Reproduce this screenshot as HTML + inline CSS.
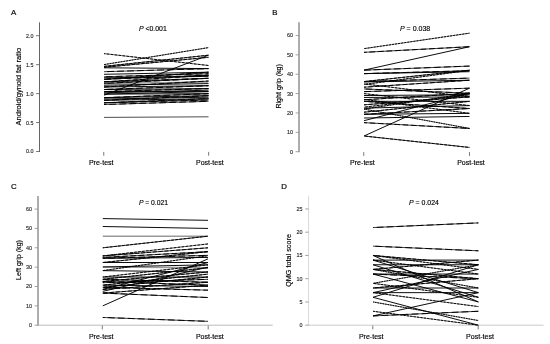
<!DOCTYPE html>
<html><head><meta charset="utf-8"><title>Figure</title>
<style>
html,body{margin:0;padding:0;background:#fff;}
body{width:550px;height:344px;overflow:hidden;font-family:'Liberation Sans', sans-serif;}
svg{display:block;}
svg text{font-family:"Liberation Sans",sans-serif;}
</style></head><body>
<svg width="550" height="344" viewBox="0 0 550 344">
<rect width="550" height="344" fill="#fff"/>
<line x1="39.5" y1="22.3" x2="39.5" y2="152" stroke="#666" stroke-width="1"/>
<line x1="36.1" y1="151.5" x2="39.5" y2="151.5" stroke="#666" stroke-width="0.9"/>
<text x="33.5" y="153.45" font-size="5.4" fill="#222" text-anchor="end" stroke="#222" stroke-width="0.12">0.0</text>
<line x1="36.1" y1="122.55" x2="39.5" y2="122.55" stroke="#666" stroke-width="0.9"/>
<text x="33.5" y="124.5" font-size="5.4" fill="#222" text-anchor="end" stroke="#222" stroke-width="0.12">0.5</text>
<line x1="36.1" y1="93.6" x2="39.5" y2="93.6" stroke="#666" stroke-width="0.9"/>
<text x="33.5" y="95.55" font-size="5.4" fill="#222" text-anchor="end" stroke="#222" stroke-width="0.12">1.0</text>
<line x1="36.1" y1="64.65" x2="39.5" y2="64.65" stroke="#666" stroke-width="0.9"/>
<text x="33.5" y="66.6" font-size="5.4" fill="#222" text-anchor="end" stroke="#222" stroke-width="0.12">1.5</text>
<line x1="36.1" y1="35.7" x2="39.5" y2="35.7" stroke="#666" stroke-width="0.9"/>
<text x="33.5" y="37.65" font-size="5.4" fill="#222" text-anchor="end" stroke="#222" stroke-width="0.12">2.0</text>
<line x1="103.75" y1="151.9" x2="103.75" y2="155.7" stroke="#555" stroke-width="0.8"/>
<line x1="208.65" y1="151.9" x2="208.65" y2="155.7" stroke="#555" stroke-width="0.8"/>
<text x="10.9" y="15" font-size="7.9" fill="#111" stroke="#111" stroke-width="0.22">A</text>
<text x="138.9" y="31.3" font-size="7" fill="#000" textLength="27.9" lengthAdjust="spacingAndGlyphs" stroke="#000" stroke-width="0.15"><tspan font-style="italic">P</tspan> &lt;0.001</text>
<text x="88.9" y="165.2" font-size="7" fill="#000" textLength="24.7" lengthAdjust="spacingAndGlyphs" stroke="#000" stroke-width="0.15">Pre-test</text>
<text x="196" y="165.2" font-size="7" fill="#000" textLength="27.6" lengthAdjust="spacingAndGlyphs" stroke="#000" stroke-width="0.15">Post-test</text>
<text x="20.9" y="125.4" font-size="7" fill="#000" textLength="77.6" lengthAdjust="spacingAndGlyphs" stroke="#000" stroke-width="0.15" transform="rotate(-90 20.9 125.4)">Android/gynoid fat ratio</text>
<line x1="104" y1="53.6" x2="208.5" y2="65.5" stroke="#000" stroke-opacity="0.5" stroke-width="0.95"/>
<line x1="104" y1="53.6" x2="208.5" y2="65.5" stroke="#000" stroke-width="0.95" stroke-dasharray="2.71 1.28" stroke-dashoffset="1.37"/>
<line x1="104" y1="64.6" x2="208.5" y2="47.6" stroke="#000" stroke-opacity="0.5" stroke-width="0.95"/>
<line x1="104" y1="64.6" x2="208.5" y2="47.6" stroke="#000" stroke-width="0.95" stroke-dasharray="1.9 0.89" stroke-dashoffset="2.74"/>
<line x1="104" y1="66.4" x2="208.5" y2="55.2" stroke="#000" stroke-opacity="0.8" stroke-width="0.95"/>
<line x1="104" y1="66.4" x2="208.5" y2="55.2" stroke="#000" stroke-width="0.95" stroke-dasharray="2.88 1.36" stroke-dashoffset="4.11"/>
<line x1="104" y1="67.3" x2="208.5" y2="57.3" stroke="#000" stroke-opacity="0.8" stroke-width="0.95"/>
<line x1="104" y1="67.3" x2="208.5" y2="57.3" stroke="#000" stroke-width="0.95" stroke-dasharray="3.23 1.52" stroke-dashoffset="0.73"/>
<line x1="104" y1="67.8" x2="208.5" y2="68.6" stroke="#000" stroke-width="0.95"/>
<line x1="104" y1="71.7" x2="208.5" y2="68.6" stroke="#000" stroke-opacity="0.8" stroke-width="0.95"/>
<line x1="104" y1="71.7" x2="208.5" y2="68.6" stroke="#000" stroke-width="0.95" stroke-dasharray="6.8 3.2" stroke-dashoffset="6.85"/>
<line x1="104" y1="74.3" x2="208.5" y2="72.2" stroke="#000" stroke-width="0.95"/>
<line x1="104" y1="76.8" x2="208.5" y2="73.7" stroke="#000" stroke-opacity="0.8" stroke-width="0.95"/>
<line x1="104" y1="76.8" x2="208.5" y2="73.7" stroke="#000" stroke-width="0.95" stroke-dasharray="6.8 3.2" stroke-dashoffset="8.22"/>
<line x1="104" y1="79.3" x2="208.5" y2="75.2" stroke="#000" stroke-opacity="0.8" stroke-width="0.95"/>
<line x1="104" y1="79.3" x2="208.5" y2="75.2" stroke="#000" stroke-width="0.95" stroke-dasharray="6.8 3.2" stroke-dashoffset="9.59"/>
<line x1="104" y1="79.3" x2="208.5" y2="72.2" stroke="#000" stroke-opacity="0.8" stroke-width="0.95"/>
<line x1="104" y1="79.3" x2="208.5" y2="72.2" stroke="#000" stroke-width="0.95" stroke-dasharray="4.55 2.14" stroke-dashoffset="4.27"/>
<line x1="104" y1="81.9" x2="208.5" y2="78.3" stroke="#000" stroke-opacity="0.8" stroke-width="0.95"/>
<line x1="104" y1="81.9" x2="208.5" y2="78.3" stroke="#000" stroke-width="0.95" stroke-dasharray="6.8 3.2" stroke-dashoffset="2.33"/>
<line x1="104" y1="81.9" x2="208.5" y2="75.2" stroke="#000" stroke-opacity="0.8" stroke-width="0.95"/>
<line x1="104" y1="81.9" x2="208.5" y2="75.2" stroke="#000" stroke-width="0.95" stroke-dasharray="4.82 2.27" stroke-dashoffset="6.61"/>
<line x1="104" y1="83.4" x2="208.5" y2="82" stroke="#999" stroke-width="1.5"/>
<line x1="104" y1="83.4" x2="208.5" y2="78.3" stroke="#000" stroke-opacity="0.8" stroke-width="0.95"/>
<line x1="104" y1="83.4" x2="208.5" y2="78.3" stroke="#000" stroke-width="0.95" stroke-dasharray="6.33 2.98" stroke-dashoffset="5.76"/>
<line x1="104" y1="87" x2="208.5" y2="85.7" stroke="#000" stroke-width="0.95"/>
<line x1="104" y1="87" x2="208.5" y2="81" stroke="#000" stroke-opacity="0.8" stroke-width="0.95"/>
<line x1="104" y1="87" x2="208.5" y2="81" stroke="#000" stroke-width="0.95" stroke-dasharray="5.38 2.53" stroke-dashoffset="0.61"/>
<line x1="104" y1="89.5" x2="208.5" y2="88.6" stroke="#000" stroke-width="0.95"/>
<line x1="104" y1="89.5" x2="208.5" y2="85.7" stroke="#000" stroke-opacity="0.8" stroke-width="0.95"/>
<line x1="104" y1="89.5" x2="208.5" y2="85.7" stroke="#000" stroke-width="0.95" stroke-dasharray="6.8 3.2" stroke-dashoffset="7.81"/>
<line x1="104" y1="91.6" x2="208.5" y2="91.6" stroke="#000" stroke-width="0.95"/>
<line x1="104" y1="91.6" x2="208.5" y2="88.6" stroke="#000" stroke-opacity="0.8" stroke-width="0.95"/>
<line x1="104" y1="91.6" x2="208.5" y2="88.6" stroke="#000" stroke-width="0.95" stroke-dasharray="6.8 3.2" stroke-dashoffset="9.18"/>
<line x1="104" y1="94.1" x2="208.5" y2="93.7" stroke="#000" stroke-width="0.95"/>
<line x1="104" y1="95.2" x2="208.5" y2="55.2" stroke="#000" stroke-width="0.95"/>
<line x1="104" y1="94.1" x2="208.5" y2="91.6" stroke="#000" stroke-width="0.95"/>
<line x1="104" y1="97.7" x2="208.5" y2="95.7" stroke="#000" stroke-width="0.95"/>
<line x1="104" y1="97.7" x2="208.5" y2="93.7" stroke="#000" stroke-opacity="0.8" stroke-width="0.95"/>
<line x1="104" y1="97.7" x2="208.5" y2="93.7" stroke="#000" stroke-width="0.95" stroke-dasharray="6.8 3.2" stroke-dashoffset="0.55"/>
<line x1="104" y1="100.3" x2="208.5" y2="98.7" stroke="#000" stroke-width="0.95"/>
<line x1="104" y1="100.3" x2="208.5" y2="95.7" stroke="#000" stroke-opacity="0.8" stroke-width="0.95"/>
<line x1="104" y1="100.3" x2="208.5" y2="95.7" stroke="#000" stroke-width="0.95" stroke-dasharray="6.8 3.2" stroke-dashoffset="1.92"/>
<line x1="104" y1="102.8" x2="208.5" y2="100" stroke="#000" stroke-opacity="0.8" stroke-width="0.95"/>
<line x1="104" y1="102.8" x2="208.5" y2="100" stroke="#000" stroke-width="0.95" stroke-dasharray="6.8 3.2" stroke-dashoffset="3.29"/>
<line x1="104" y1="104.5" x2="208.5" y2="101.3" stroke="#000" stroke-opacity="0.8" stroke-width="0.95"/>
<line x1="104" y1="104.5" x2="208.5" y2="101.3" stroke="#000" stroke-width="0.95" stroke-dasharray="6.8 3.2" stroke-dashoffset="4.66"/>
<line x1="104" y1="102.8" x2="208.5" y2="98.7" stroke="#000" stroke-opacity="0.8" stroke-width="0.95"/>
<line x1="104" y1="102.8" x2="208.5" y2="98.7" stroke="#000" stroke-width="0.95" stroke-dasharray="6.8 3.2" stroke-dashoffset="6.03"/>
<line x1="104" y1="85.2" x2="208.5" y2="83.6" stroke="#000" stroke-width="0.95"/>
<line x1="104" y1="92.8" x2="208.5" y2="90.2" stroke="#000" stroke-width="0.95"/>
<line x1="104" y1="99" x2="208.5" y2="97.2" stroke="#000" stroke-width="0.95"/>
<line x1="104" y1="77.8" x2="208.5" y2="76.4" stroke="#000" stroke-width="0.95"/>
<line x1="104" y1="117.4" x2="208.5" y2="116.8" stroke="#444" stroke-width="0.95"/>
<line x1="299" y1="22.3" x2="299" y2="152.2" stroke="#999" stroke-width="1.6"/>
<line x1="295.6" y1="151.7" x2="299" y2="151.7" stroke="#999" stroke-width="0.9"/>
<text x="293" y="153.65" font-size="5.4" fill="#222" text-anchor="end" stroke="#222" stroke-width="0.12">0</text>
<line x1="295.6" y1="132.33" x2="299" y2="132.33" stroke="#999" stroke-width="0.9"/>
<text x="293" y="134.28" font-size="5.4" fill="#222" text-anchor="end" stroke="#222" stroke-width="0.12">10</text>
<line x1="295.6" y1="112.96" x2="299" y2="112.96" stroke="#999" stroke-width="0.9"/>
<text x="293" y="114.91" font-size="5.4" fill="#222" text-anchor="end" stroke="#222" stroke-width="0.12">20</text>
<line x1="295.6" y1="93.59" x2="299" y2="93.59" stroke="#999" stroke-width="0.9"/>
<text x="293" y="95.54" font-size="5.4" fill="#222" text-anchor="end" stroke="#222" stroke-width="0.12">30</text>
<line x1="295.6" y1="74.22" x2="299" y2="74.22" stroke="#999" stroke-width="0.9"/>
<text x="293" y="76.17" font-size="5.4" fill="#222" text-anchor="end" stroke="#222" stroke-width="0.12">40</text>
<line x1="295.6" y1="54.85" x2="299" y2="54.85" stroke="#999" stroke-width="0.9"/>
<text x="293" y="56.8" font-size="5.4" fill="#222" text-anchor="end" stroke="#222" stroke-width="0.12">50</text>
<line x1="295.6" y1="35.48" x2="299" y2="35.48" stroke="#999" stroke-width="0.9"/>
<text x="293" y="37.43" font-size="5.4" fill="#222" text-anchor="end" stroke="#222" stroke-width="0.12">60</text>
<line x1="363.75" y1="152.1" x2="363.75" y2="155.9" stroke="#555" stroke-width="0.8"/>
<line x1="469.5" y1="152.1" x2="469.5" y2="155.9" stroke="#555" stroke-width="0.8"/>
<text x="272.3" y="15" font-size="7.9" fill="#111" stroke="#111" stroke-width="0.22">B</text>
<text x="400" y="31.3" font-size="7" fill="#000" textLength="30.2" lengthAdjust="spacingAndGlyphs" stroke="#000" stroke-width="0.15"><tspan font-style="italic">P</tspan> = 0.038</text>
<text x="350" y="165.4" font-size="7" fill="#000" textLength="24.8" lengthAdjust="spacingAndGlyphs" stroke="#000" stroke-width="0.15">Pre-test</text>
<text x="457.2" y="165.4" font-size="7" fill="#000" textLength="27.6" lengthAdjust="spacingAndGlyphs" stroke="#000" stroke-width="0.15">Post-test</text>
<text x="281.4" y="108.6" font-size="7" fill="#000" textLength="44.5" lengthAdjust="spacingAndGlyphs" stroke="#000" stroke-width="0.15" transform="rotate(-90 281.4 108.6)">Right grip (kg)</text>
<line x1="364" y1="48.65" x2="469.5" y2="33.16" stroke="#000" stroke-opacity="0.5" stroke-width="0.95"/>
<line x1="364" y1="48.65" x2="469.5" y2="33.16" stroke="#000" stroke-width="0.95" stroke-dasharray="2.1 0.99" stroke-dashoffset="2.64"/>
<line x1="364" y1="52.33" x2="469.5" y2="46.71" stroke="#000" stroke-opacity="0.8" stroke-width="0.95"/>
<line x1="364" y1="52.33" x2="469.5" y2="46.71" stroke="#000" stroke-width="0.95" stroke-dasharray="5.81 2.73" stroke-dashoffset="3.16"/>
<line x1="364" y1="70.15" x2="469.5" y2="46.71" stroke="#000" stroke-width="0.95"/>
<line x1="364" y1="70.15" x2="469.5" y2="66.08" stroke="#000" stroke-opacity="0.8" stroke-width="0.95"/>
<line x1="364" y1="70.15" x2="469.5" y2="66.08" stroke="#000" stroke-width="0.95" stroke-dasharray="6.8 3.2" stroke-dashoffset="0.14"/>
<line x1="364" y1="73.64" x2="469.5" y2="70.73" stroke="#000" stroke-opacity="0.8" stroke-width="0.95"/>
<line x1="364" y1="73.64" x2="469.5" y2="70.73" stroke="#000" stroke-width="0.95" stroke-dasharray="6.8 3.2" stroke-dashoffset="1.51"/>
<line x1="364" y1="73.64" x2="469.5" y2="71.7" stroke="#000" stroke-width="0.95"/>
<line x1="364" y1="81.58" x2="469.5" y2="70.15" stroke="#000" stroke-opacity="0.8" stroke-width="0.95"/>
<line x1="364" y1="81.58" x2="469.5" y2="70.15" stroke="#000" stroke-width="0.95" stroke-dasharray="2.85 1.34" stroke-dashoffset="3.51"/>
<line x1="364" y1="81.58" x2="469.5" y2="78.09" stroke="#000" stroke-opacity="0.8" stroke-width="0.95"/>
<line x1="364" y1="81.58" x2="469.5" y2="78.09" stroke="#000" stroke-width="0.95" stroke-dasharray="6.8 3.2" stroke-dashoffset="4.25"/>
<line x1="364" y1="81.97" x2="469.5" y2="80.22" stroke="#000" stroke-width="0.95"/>
<line x1="364" y1="84.49" x2="469.5" y2="70.35" stroke="#000" stroke-opacity="0.5" stroke-width="0.95"/>
<line x1="364" y1="84.49" x2="469.5" y2="70.35" stroke="#000" stroke-width="0.95" stroke-dasharray="2.31 1.09" stroke-dashoffset="1.71"/>
<line x1="364" y1="87.2" x2="469.5" y2="80.22" stroke="#000" stroke-opacity="0.8" stroke-width="0.95"/>
<line x1="364" y1="87.2" x2="469.5" y2="80.22" stroke="#000" stroke-width="0.95" stroke-dasharray="4.68 2.2" stroke-dashoffset="2.61"/>
<line x1="364" y1="88.94" x2="469.5" y2="93.2" stroke="#000" stroke-opacity="0.8" stroke-width="0.95"/>
<line x1="364" y1="88.94" x2="469.5" y2="93.2" stroke="#000" stroke-width="0.95" stroke-dasharray="6.8 3.2" stroke-dashoffset="8.36"/>
<line x1="364" y1="91.65" x2="469.5" y2="88.17" stroke="#000" stroke-opacity="0.8" stroke-width="0.95"/>
<line x1="364" y1="91.65" x2="469.5" y2="88.17" stroke="#000" stroke-width="0.95" stroke-dasharray="6.8 3.2" stroke-dashoffset="9.73"/>
<line x1="364" y1="95.53" x2="469.5" y2="94.75" stroke="#000" stroke-width="0.95"/>
<line x1="364" y1="97.46" x2="469.5" y2="96.88" stroke="#000" stroke-width="0.95"/>
<line x1="364" y1="99.79" x2="469.5" y2="93.2" stroke="#000" stroke-opacity="0.8" stroke-width="0.95"/>
<line x1="364" y1="99.79" x2="469.5" y2="93.2" stroke="#000" stroke-width="0.95" stroke-dasharray="4.95 2.33" stroke-dashoffset="4.69"/>
<line x1="364" y1="101.34" x2="469.5" y2="101.34" stroke="#000" stroke-width="0.95"/>
<line x1="364" y1="101.34" x2="469.5" y2="108.5" stroke="#000" stroke-opacity="0.8" stroke-width="0.95"/>
<line x1="364" y1="101.34" x2="469.5" y2="108.5" stroke="#000" stroke-width="0.95" stroke-dasharray="4.55 2.14" stroke-dashoffset="2.32"/>
<line x1="364" y1="104.82" x2="469.5" y2="96.88" stroke="#000" stroke-opacity="0.8" stroke-width="0.95"/>
<line x1="364" y1="104.82" x2="469.5" y2="96.88" stroke="#000" stroke-width="0.95" stroke-dasharray="4.11 1.93" stroke-dashoffset="1.57"/>
<line x1="364" y1="107.15" x2="469.5" y2="94.75" stroke="#000" stroke-opacity="0.5" stroke-width="0.95"/>
<line x1="364" y1="107.15" x2="469.5" y2="94.75" stroke="#000" stroke-width="0.95" stroke-dasharray="2.63 1.24" stroke-dashoffset="2.66"/>
<line x1="364" y1="108.12" x2="469.5" y2="105.6" stroke="#000" stroke-width="0.95"/>
<line x1="364" y1="109.09" x2="469.5" y2="93.2" stroke="#000" stroke-opacity="0.5" stroke-width="0.95"/>
<line x1="364" y1="109.09" x2="469.5" y2="93.2" stroke="#000" stroke-width="0.95" stroke-dasharray="2.05 0.97" stroke-dashoffset="1.29"/>
<line x1="364" y1="109.09" x2="469.5" y2="128.46" stroke="#000" stroke-opacity="0.5" stroke-width="0.95"/>
<line x1="364" y1="109.09" x2="469.5" y2="128.46" stroke="#000" stroke-width="0.95" stroke-dasharray="1.68 0.79" stroke-dashoffset="0.91"/>
<line x1="364" y1="112.19" x2="469.5" y2="101.34" stroke="#000" stroke-opacity="0.8" stroke-width="0.95"/>
<line x1="364" y1="112.19" x2="469.5" y2="101.34" stroke="#000" stroke-width="0.95" stroke-dasharray="3.01 1.41" stroke-dashoffset="0.69"/>
<line x1="364" y1="114.32" x2="469.5" y2="108.5" stroke="#000" stroke-opacity="0.8" stroke-width="0.95"/>
<line x1="364" y1="114.32" x2="469.5" y2="108.5" stroke="#000" stroke-width="0.95" stroke-dasharray="5.61 2.64" stroke-dashoffset="1.18"/>
<line x1="364" y1="114.32" x2="469.5" y2="113.35" stroke="#000" stroke-width="0.95"/>
<line x1="364" y1="118" x2="469.5" y2="116.45" stroke="#000" stroke-width="0.95"/>
<line x1="364" y1="120.71" x2="469.5" y2="93.2" stroke="#000" stroke-width="0.95"/>
<line x1="364" y1="122.64" x2="469.5" y2="128.46" stroke="#000" stroke-opacity="0.8" stroke-width="0.95"/>
<line x1="364" y1="122.64" x2="469.5" y2="128.46" stroke="#000" stroke-width="0.95" stroke-dasharray="5.61 2.64" stroke-dashoffset="2.55"/>
<line x1="364" y1="136.01" x2="469.5" y2="88.17" stroke="#000" stroke-width="0.95"/>
<line x1="364" y1="136.01" x2="469.5" y2="147.44" stroke="#000" stroke-opacity="0.8" stroke-width="0.95"/>
<line x1="364" y1="136.01" x2="469.5" y2="147.44" stroke="#000" stroke-width="0.95" stroke-dasharray="2.85 1.34" stroke-dashoffset="3.08"/>
<line x1="364" y1="99.4" x2="469.5" y2="113.35" stroke="#000" stroke-opacity="0.5" stroke-width="0.95"/>
<line x1="364" y1="99.4" x2="469.5" y2="113.35" stroke="#000" stroke-width="0.95" stroke-dasharray="2.34 1.1" stroke-dashoffset="3.22"/>
<line x1="364" y1="93.59" x2="469.5" y2="105.6" stroke="#000" stroke-opacity="0.5" stroke-width="0.95"/>
<line x1="364" y1="93.59" x2="469.5" y2="105.6" stroke="#000" stroke-width="0.95" stroke-dasharray="2.72 1.28" stroke-dashoffset="0.27"/>
<line x1="364" y1="83.9" x2="469.5" y2="96.88" stroke="#000" stroke-opacity="0.5" stroke-width="0.95"/>
<line x1="364" y1="83.9" x2="469.5" y2="96.88" stroke="#000" stroke-width="0.95" stroke-dasharray="2.51 1.18" stroke-dashoffset="2.11"/>
<line x1="38" y1="196" x2="38" y2="325.7" stroke="#999" stroke-width="1.6"/>
<line x1="38" y1="325.2" x2="272.7" y2="325.2" stroke="#aaa" stroke-width="0.8"/>
<line x1="34.6" y1="325.2" x2="38" y2="325.2" stroke="#999" stroke-width="0.9"/>
<text x="32" y="327.15" font-size="5.4" fill="#222" text-anchor="end" stroke="#222" stroke-width="0.12">0</text>
<line x1="34.6" y1="305.85" x2="38" y2="305.85" stroke="#999" stroke-width="0.9"/>
<text x="32" y="307.8" font-size="5.4" fill="#222" text-anchor="end" stroke="#222" stroke-width="0.12">10</text>
<line x1="34.6" y1="286.5" x2="38" y2="286.5" stroke="#999" stroke-width="0.9"/>
<text x="32" y="288.45" font-size="5.4" fill="#222" text-anchor="end" stroke="#222" stroke-width="0.12">20</text>
<line x1="34.6" y1="267.15" x2="38" y2="267.15" stroke="#999" stroke-width="0.9"/>
<text x="32" y="269.1" font-size="5.4" fill="#222" text-anchor="end" stroke="#222" stroke-width="0.12">30</text>
<line x1="34.6" y1="247.8" x2="38" y2="247.8" stroke="#999" stroke-width="0.9"/>
<text x="32" y="249.75" font-size="5.4" fill="#222" text-anchor="end" stroke="#222" stroke-width="0.12">40</text>
<line x1="34.6" y1="228.45" x2="38" y2="228.45" stroke="#999" stroke-width="0.9"/>
<text x="32" y="230.4" font-size="5.4" fill="#222" text-anchor="end" stroke="#222" stroke-width="0.12">50</text>
<line x1="34.6" y1="209.1" x2="38" y2="209.1" stroke="#999" stroke-width="0.9"/>
<text x="32" y="211.05" font-size="5.4" fill="#222" text-anchor="end" stroke="#222" stroke-width="0.12">60</text>
<line x1="102.3" y1="325.6" x2="102.3" y2="329.4" stroke="#555" stroke-width="0.8"/>
<line x1="208.2" y1="325.6" x2="208.2" y2="329.4" stroke="#555" stroke-width="0.8"/>
<text x="10.9" y="188.75" font-size="7.9" fill="#111" stroke="#111" stroke-width="0.22">C</text>
<text x="138.9" y="205" font-size="7" fill="#000" textLength="29.1" lengthAdjust="spacingAndGlyphs" stroke="#000" stroke-width="0.15"><tspan font-style="italic">P</tspan> = 0.021</text>
<text x="88.9" y="338.9" font-size="7" fill="#000" textLength="24.7" lengthAdjust="spacingAndGlyphs" stroke="#000" stroke-width="0.15">Pre-test</text>
<text x="195.9" y="338.9" font-size="7" fill="#000" textLength="27.8" lengthAdjust="spacingAndGlyphs" stroke="#000" stroke-width="0.15">Post-test</text>
<text x="20.9" y="279.9" font-size="7" fill="#000" textLength="39.9" lengthAdjust="spacingAndGlyphs" stroke="#000" stroke-width="0.15" transform="rotate(-90 20.9 279.9)">Left grip (kg)</text>
<line x1="102.8" y1="218.58" x2="208" y2="220.32" stroke="#000" stroke-width="0.95"/>
<line x1="102.8" y1="226.51" x2="208" y2="228.45" stroke="#000" stroke-width="0.95"/>
<line x1="102.8" y1="236.19" x2="208" y2="236.19" stroke="#999" stroke-width="1.5"/>
<line x1="102.8" y1="247.8" x2="208" y2="236.19" stroke="#000" stroke-opacity="0.8" stroke-width="0.95"/>
<line x1="102.8" y1="247.8" x2="208" y2="236.19" stroke="#000" stroke-width="0.95" stroke-dasharray="2.8 1.32" stroke-dashoffset="1.25"/>
<line x1="102.8" y1="255.93" x2="208" y2="243.93" stroke="#000" stroke-opacity="0.5" stroke-width="0.95"/>
<line x1="102.8" y1="255.93" x2="208" y2="243.93" stroke="#000" stroke-width="0.95" stroke-dasharray="2.71 1.28" stroke-dashoffset="0.49"/>
<line x1="102.8" y1="255.93" x2="208" y2="247.8" stroke="#000" stroke-opacity="0.8" stroke-width="0.95"/>
<line x1="102.8" y1="255.93" x2="208" y2="247.8" stroke="#000" stroke-width="0.95" stroke-dasharray="4 1.88" stroke-dashoffset="2.81"/>
<line x1="102.8" y1="257.47" x2="208" y2="251.67" stroke="#000" stroke-opacity="0.8" stroke-width="0.95"/>
<line x1="102.8" y1="257.47" x2="208" y2="251.67" stroke="#000" stroke-width="0.95" stroke-dasharray="5.6 2.64" stroke-dashoffset="5.36"/>
<line x1="102.8" y1="258.25" x2="208" y2="255.35" stroke="#000" stroke-opacity="0.8" stroke-width="0.95"/>
<line x1="102.8" y1="258.25" x2="208" y2="255.35" stroke="#000" stroke-width="0.95" stroke-dasharray="6.8 3.2" stroke-dashoffset="4.39"/>
<line x1="102.8" y1="258.25" x2="208" y2="257.47" stroke="#000" stroke-width="0.95"/>
<line x1="102.8" y1="262.51" x2="208" y2="251.67" stroke="#000" stroke-opacity="0.8" stroke-width="0.95"/>
<line x1="102.8" y1="262.51" x2="208" y2="251.67" stroke="#000" stroke-width="0.95" stroke-dasharray="3 1.41" stroke-dashoffset="3.98"/>
<line x1="102.8" y1="262.51" x2="208" y2="262.51" stroke="#000" stroke-width="0.95"/>
<line x1="102.8" y1="266.96" x2="208" y2="267.73" stroke="#999" stroke-width="1.5"/>
<line x1="102.8" y1="266.96" x2="208" y2="264.83" stroke="#000" stroke-width="0.95"/>
<line x1="102.8" y1="270.63" x2="208" y2="255.73" stroke="#000" stroke-opacity="0.5" stroke-width="0.95"/>
<line x1="102.8" y1="270.63" x2="208" y2="255.73" stroke="#000" stroke-width="0.95" stroke-dasharray="2.18 1.03" stroke-dashoffset="2.94"/>
<line x1="102.8" y1="270.63" x2="208" y2="271.99" stroke="#000" stroke-width="0.95"/>
<line x1="102.8" y1="277.02" x2="208" y2="264.83" stroke="#000" stroke-opacity="0.5" stroke-width="0.95"/>
<line x1="102.8" y1="277.02" x2="208" y2="264.83" stroke="#000" stroke-width="0.95" stroke-dasharray="2.67 1.26" stroke-dashoffset="1.82"/>
<line x1="102.8" y1="277.02" x2="208" y2="277.02" stroke="#000" stroke-width="0.95"/>
<line x1="102.8" y1="279.34" x2="208" y2="267.73" stroke="#000" stroke-opacity="0.8" stroke-width="0.95"/>
<line x1="102.8" y1="279.34" x2="208" y2="267.73" stroke="#000" stroke-width="0.95" stroke-dasharray="2.8 1.32" stroke-dashoffset="3.97"/>
<line x1="102.8" y1="279.34" x2="208" y2="282.24" stroke="#000" stroke-opacity="0.8" stroke-width="0.95"/>
<line x1="102.8" y1="279.34" x2="208" y2="282.24" stroke="#000" stroke-width="0.95" stroke-dasharray="6.8 3.2" stroke-dashoffset="1.24"/>
<line x1="102.8" y1="281.47" x2="208" y2="271.99" stroke="#000" stroke-opacity="0.8" stroke-width="0.95"/>
<line x1="102.8" y1="281.47" x2="208" y2="271.99" stroke="#000" stroke-width="0.95" stroke-dasharray="3.43 1.61" stroke-dashoffset="2"/>
<line x1="102.8" y1="281.47" x2="208" y2="285.15" stroke="#000" stroke-opacity="0.8" stroke-width="0.95"/>
<line x1="102.8" y1="281.47" x2="208" y2="285.15" stroke="#000" stroke-width="0.95" stroke-dasharray="6.8 3.2" stroke-dashoffset="3.98"/>
<line x1="102.8" y1="282.63" x2="208" y2="279.34" stroke="#000" stroke-opacity="0.8" stroke-width="0.95"/>
<line x1="102.8" y1="282.63" x2="208" y2="279.34" stroke="#000" stroke-width="0.95" stroke-dasharray="6.8 3.2" stroke-dashoffset="5.35"/>
<line x1="102.8" y1="285.15" x2="208" y2="274.12" stroke="#000" stroke-opacity="0.8" stroke-width="0.95"/>
<line x1="102.8" y1="285.15" x2="208" y2="274.12" stroke="#000" stroke-width="0.95" stroke-dasharray="2.95 1.39" stroke-dashoffset="3.02"/>
<line x1="102.8" y1="285.15" x2="208" y2="286.5" stroke="#000" stroke-width="0.95"/>
<line x1="102.8" y1="287.27" x2="208" y2="277.02" stroke="#000" stroke-opacity="0.8" stroke-width="0.95"/>
<line x1="102.8" y1="287.27" x2="208" y2="277.02" stroke="#000" stroke-width="0.95" stroke-dasharray="3.17 1.49" stroke-dashoffset="3.49"/>
<line x1="102.8" y1="287.27" x2="208" y2="290.18" stroke="#000" stroke-opacity="0.8" stroke-width="0.95"/>
<line x1="102.8" y1="287.27" x2="208" y2="290.18" stroke="#000" stroke-width="0.95" stroke-dasharray="6.8 3.2" stroke-dashoffset="9.46"/>
<line x1="102.8" y1="289.4" x2="208" y2="262.51" stroke="#000" stroke-width="0.95"/>
<line x1="102.8" y1="289.4" x2="208" y2="282.24" stroke="#000" stroke-opacity="0.8" stroke-width="0.95"/>
<line x1="102.8" y1="289.4" x2="208" y2="282.24" stroke="#000" stroke-width="0.95" stroke-dasharray="4.54 2.14" stroke-dashoffset="0.68"/>
<line x1="102.8" y1="291.34" x2="208" y2="267.15" stroke="#000" stroke-width="0.95"/>
<line x1="102.8" y1="293.08" x2="208" y2="297.53" stroke="#000" stroke-opacity="0.8" stroke-width="0.95"/>
<line x1="102.8" y1="293.08" x2="208" y2="297.53" stroke="#000" stroke-width="0.95" stroke-dasharray="6.8 3.2" stroke-dashoffset="2.2"/>
<line x1="102.8" y1="293.08" x2="208" y2="285.15" stroke="#000" stroke-opacity="0.8" stroke-width="0.95"/>
<line x1="102.8" y1="293.08" x2="208" y2="285.15" stroke="#000" stroke-width="0.95" stroke-dasharray="4.1 1.93" stroke-dashoffset="5.21"/>
<line x1="102.8" y1="305.85" x2="208" y2="258.83" stroke="#000" stroke-width="0.95"/>
<line x1="102.8" y1="317.46" x2="208" y2="321.33" stroke="#000" stroke-opacity="0.8" stroke-width="0.95"/>
<line x1="102.8" y1="317.46" x2="208" y2="321.33" stroke="#000" stroke-width="0.95" stroke-dasharray="6.8 3.2" stroke-dashoffset="4.94"/>
<line x1="308.6" y1="195.8" x2="308.6" y2="325.7" stroke="#d8d8d8" stroke-width="1"/>
<line x1="308.6" y1="325.2" x2="543.6" y2="325.2" stroke="#bbb" stroke-width="0.8"/>
<line x1="305.2" y1="325.2" x2="308.6" y2="325.2" stroke="#999" stroke-width="0.9"/>
<text x="302.6" y="327.15" font-size="5.4" fill="#222" text-anchor="end" stroke="#222" stroke-width="0.12">0</text>
<line x1="305.2" y1="301.95" x2="308.6" y2="301.95" stroke="#999" stroke-width="0.9"/>
<text x="302.6" y="303.9" font-size="5.4" fill="#222" text-anchor="end" stroke="#222" stroke-width="0.12">5</text>
<line x1="305.2" y1="278.7" x2="308.6" y2="278.7" stroke="#999" stroke-width="0.9"/>
<text x="302.6" y="280.65" font-size="5.4" fill="#222" text-anchor="end" stroke="#222" stroke-width="0.12">10</text>
<line x1="305.2" y1="255.45" x2="308.6" y2="255.45" stroke="#999" stroke-width="0.9"/>
<text x="302.6" y="257.4" font-size="5.4" fill="#222" text-anchor="end" stroke="#222" stroke-width="0.12">15</text>
<line x1="305.2" y1="232.2" x2="308.6" y2="232.2" stroke="#999" stroke-width="0.9"/>
<text x="302.6" y="234.15" font-size="5.4" fill="#222" text-anchor="end" stroke="#222" stroke-width="0.12">20</text>
<line x1="305.2" y1="208.95" x2="308.6" y2="208.95" stroke="#999" stroke-width="0.9"/>
<text x="302.6" y="210.9" font-size="5.4" fill="#222" text-anchor="end" stroke="#222" stroke-width="0.12">25</text>
<line x1="372.8" y1="325.6" x2="372.8" y2="329.4" stroke="#555" stroke-width="0.8"/>
<line x1="478.2" y1="325.6" x2="478.2" y2="329.4" stroke="#555" stroke-width="0.8"/>
<text x="281.3" y="188.75" font-size="7.9" fill="#111" stroke="#111" stroke-width="0.22">D</text>
<text x="409.1" y="205" font-size="7" fill="#000" textLength="29.8" lengthAdjust="spacingAndGlyphs" stroke="#000" stroke-width="0.15"><tspan font-style="italic">P</tspan> = 0.024</text>
<text x="358.9" y="338.9" font-size="7" fill="#000" textLength="24.7" lengthAdjust="spacingAndGlyphs" stroke="#000" stroke-width="0.15">Pre-test</text>
<text x="466" y="338.9" font-size="7" fill="#000" textLength="28" lengthAdjust="spacingAndGlyphs" stroke="#000" stroke-width="0.15">Post-test</text>
<text x="290.9" y="286.8" font-size="7" fill="#000" textLength="52.8" lengthAdjust="spacingAndGlyphs" stroke="#000" stroke-width="0.15" transform="rotate(-90 290.9 286.8)">QMG total score</text>
<line x1="373" y1="227.55" x2="478.4" y2="222.9" stroke="#000" stroke-opacity="0.8" stroke-width="0.95"/>
<line x1="373" y1="227.55" x2="478.4" y2="222.9" stroke="#000" stroke-width="0.95" stroke-dasharray="6.8 3.2" stroke-dashoffset="6.31"/>
<line x1="373" y1="246.15" x2="478.4" y2="250.8" stroke="#000" stroke-opacity="0.8" stroke-width="0.95"/>
<line x1="373" y1="246.15" x2="478.4" y2="250.8" stroke="#000" stroke-width="0.95" stroke-dasharray="6.8 3.2" stroke-dashoffset="7.68"/>
<line x1="373" y1="255.45" x2="478.4" y2="264.75" stroke="#000" stroke-opacity="0.8" stroke-width="0.95"/>
<line x1="373" y1="255.45" x2="478.4" y2="264.75" stroke="#000" stroke-width="0.95" stroke-dasharray="3.5 1.65" stroke-dashoffset="1.47"/>
<line x1="373" y1="255.45" x2="478.4" y2="301.95" stroke="#000" stroke-width="0.95"/>
<line x1="373" y1="255.45" x2="478.4" y2="269.4" stroke="#000" stroke-opacity="0.5" stroke-width="0.95"/>
<line x1="373" y1="255.45" x2="478.4" y2="269.4" stroke="#000" stroke-width="0.95" stroke-dasharray="2.34 1.1" stroke-dashoffset="1.13"/>
<line x1="373" y1="260.1" x2="478.4" y2="260.1" stroke="#000" stroke-width="0.95"/>
<line x1="373" y1="260.1" x2="478.4" y2="292.65" stroke="#000" stroke-width="0.95"/>
<line x1="373" y1="264.75" x2="478.4" y2="264.75" stroke="#000" stroke-width="0.95"/>
<line x1="373" y1="264.75" x2="478.4" y2="297.3" stroke="#000" stroke-width="0.95"/>
<line x1="373" y1="269.4" x2="478.4" y2="260.1" stroke="#000" stroke-opacity="0.8" stroke-width="0.95"/>
<line x1="373" y1="269.4" x2="478.4" y2="260.1" stroke="#000" stroke-width="0.95" stroke-dasharray="3.5 1.65" stroke-dashoffset="4.21"/>
<line x1="373" y1="269.4" x2="478.4" y2="288" stroke="#000" stroke-opacity="0.5" stroke-width="0.95"/>
<line x1="373" y1="269.4" x2="478.4" y2="288" stroke="#000" stroke-width="0.95" stroke-dasharray="1.75 0.82" stroke-dashoffset="0.43"/>
<line x1="373" y1="274.05" x2="478.4" y2="274.05" stroke="#000" stroke-width="0.95"/>
<line x1="373" y1="274.05" x2="478.4" y2="301.95" stroke="#000" stroke-width="0.95"/>
<line x1="373" y1="283.35" x2="478.4" y2="264.75" stroke="#000" stroke-opacity="0.5" stroke-width="0.95"/>
<line x1="373" y1="283.35" x2="478.4" y2="264.75" stroke="#000" stroke-width="0.95" stroke-dasharray="1.75 0.82" stroke-dashoffset="1.8"/>
<line x1="373" y1="288" x2="478.4" y2="278.7" stroke="#000" stroke-opacity="0.8" stroke-width="0.95"/>
<line x1="373" y1="288" x2="478.4" y2="278.7" stroke="#000" stroke-width="0.95" stroke-dasharray="3.5 1.65" stroke-dashoffset="3.17"/>
<line x1="373" y1="288" x2="478.4" y2="288" stroke="#000" stroke-width="0.95"/>
<line x1="373" y1="292.65" x2="478.4" y2="269.4" stroke="#000" stroke-width="0.95"/>
<line x1="373" y1="292.65" x2="478.4" y2="306.6" stroke="#000" stroke-opacity="0.5" stroke-width="0.95"/>
<line x1="373" y1="292.65" x2="478.4" y2="306.6" stroke="#000" stroke-width="0.95" stroke-dasharray="2.34 1.1" stroke-dashoffset="1.11"/>
<line x1="373" y1="292.65" x2="478.4" y2="292.65" stroke="#000" stroke-width="0.95"/>
<line x1="373" y1="297.3" x2="478.4" y2="264.75" stroke="#000" stroke-width="0.95"/>
<line x1="373" y1="297.3" x2="478.4" y2="325.2" stroke="#000" stroke-width="0.95"/>
<line x1="373" y1="301.95" x2="478.4" y2="320.55" stroke="#000" stroke-opacity="0.5" stroke-width="0.95"/>
<line x1="373" y1="301.95" x2="478.4" y2="320.55" stroke="#000" stroke-width="0.95" stroke-dasharray="1.75 0.82" stroke-dashoffset="0.76"/>
<line x1="373" y1="311.25" x2="478.4" y2="325.2" stroke="#000" stroke-opacity="0.5" stroke-width="0.95"/>
<line x1="373" y1="311.25" x2="478.4" y2="325.2" stroke="#000" stroke-width="0.95" stroke-dasharray="2.34 1.1" stroke-dashoffset="0.41"/>
<line x1="373" y1="315.9" x2="478.4" y2="292.65" stroke="#000" stroke-width="0.95"/>
<line x1="373" y1="315.9" x2="478.4" y2="311.25" stroke="#000" stroke-opacity="0.8" stroke-width="0.95"/>
<line x1="373" y1="315.9" x2="478.4" y2="311.25" stroke="#000" stroke-width="0.95" stroke-dasharray="6.8 3.2" stroke-dashoffset="1.38"/>
<line x1="373" y1="274.05" x2="478.4" y2="278.7" stroke="#000" stroke-opacity="0.8" stroke-width="0.95"/>
<line x1="373" y1="274.05" x2="478.4" y2="278.7" stroke="#000" stroke-width="0.95" stroke-dasharray="6.8 3.2" stroke-dashoffset="2.75"/>
<line x1="373" y1="269.4" x2="478.4" y2="278.7" stroke="#000" stroke-opacity="0.8" stroke-width="0.95"/>
<line x1="373" y1="269.4" x2="478.4" y2="278.7" stroke="#000" stroke-width="0.95" stroke-dasharray="3.5 1.65" stroke-dashoffset="1.09"/>
<line x1="373" y1="283.35" x2="478.4" y2="297.3" stroke="#000" stroke-opacity="0.5" stroke-width="0.95"/>
<line x1="373" y1="283.35" x2="478.4" y2="297.3" stroke="#000" stroke-width="0.95" stroke-dasharray="2.34 1.1" stroke-dashoffset="2.46"/>
<line x1="373" y1="260.1" x2="478.4" y2="274.05" stroke="#000" stroke-opacity="0.5" stroke-width="0.95"/>
<line x1="373" y1="260.1" x2="478.4" y2="274.05" stroke="#000" stroke-width="0.95" stroke-dasharray="2.34 1.1" stroke-dashoffset="0.4"/>
</svg>
</body></html>
